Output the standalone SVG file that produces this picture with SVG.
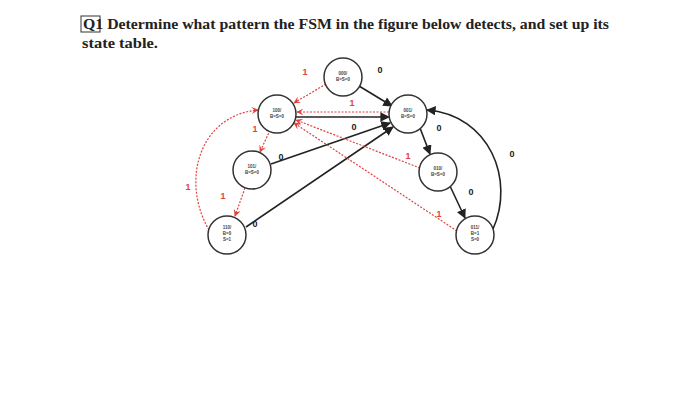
<svg xmlns="http://www.w3.org/2000/svg" width="700" height="411" viewBox="0 0 700 411">
<style>
.n{fill:#fff;stroke:#333;stroke-width:1.5}
.t{font-family:"Liberation Sans",sans-serif;font-size:4.5px;font-weight:bold;fill:#444;text-anchor:middle}
.b{fill:none;stroke:#222;stroke-width:1.6;marker-end:url(#ab)}
.r{fill:none;stroke:#e34040;stroke-width:1.2;stroke-dasharray:2,1.5;marker-end:url(#ar)}
.lb{font-family:"Liberation Sans",sans-serif;font-size:9px;font-weight:bold;fill:#222;text-anchor:middle}
.lr{font-family:"Liberation Sans",sans-serif;font-size:9px;font-weight:bold;fill:#e34040;text-anchor:middle}
.h{font-family:"Liberation Serif",serif;font-size:15px;font-weight:bold;fill:#222}
</style>
<defs>
<marker id="ab" viewBox="0 0 10 10" refX="9" refY="5" markerWidth="6" markerHeight="6" orient="auto"><path d="M0,0L10,5L0,10z" fill="#222"/></marker>
<marker id="ar" viewBox="0 0 10 10" refX="9" refY="5" markerWidth="6" markerHeight="6" orient="auto"><path d="M0,0L10,5L0,10L4,5z" fill="#e34040"/></marker>
</defs>
<rect width="700" height="411" fill="#fff"/>
<rect x="81" y="16" width="19" height="16" fill="none" stroke="#333" stroke-width="1"/>
<text class="h" x="83" y="29" textLength="526" lengthAdjust="spacingAndGlyphs">Q1 Determine what pattern the FSM in the figure below detects, and set up its</text>
<text class="h" x="82" y="48" textLength="76" lengthAdjust="spacingAndGlyphs">state table.</text>
<g id="connectors">
<path class="b" d="M359,86L392,106"/><text class="lb" x="380" y="73">0</text>
<path class="r" d="M326,84L294,103"/><text class="lr" x="305" y="75">1</text>
<path class="r" d="M389,112L297,112"/><text class="lr" x="352" y="106">1</text>
<path class="b" d="M296,117L389,117"/><text class="lb" x="354" y="130">0</text>
<path class="b" d="M271,164L390,123"/><text class="lb" x="281" y="160">0</text>
<path class="b" d="M246,227L393,127"/><text class="lb" x="255" y="227">0</text>
<path class="b" d="M420,128L430,154"/><text class="lb" x="439" y="131">0</text>
<path class="b" d="M450,186L465,218"/><text class="lb" x="471" y="195">0</text>
<path class="b" d="M493,229C515,180 490,115 427,110"/><text class="lb" x="512" y="157">0</text>
<path class="r" d="M420,168L296,120"/><text class="lr" x="408" y="159">1</text>
<path class="r" d="M457,231L294,123"/><text class="lr" x="439" y="217">1</text>
<path class="r" d="M270,130L260,152"/><text class="lr" x="255" y="132">1</text>
<path class="r" d="M245,188L235,216"/><text class="lr" x="223" y="199">1</text>
<path class="r" d="M209,230C180,180 200,115 258,110"/><text class="lr" x="188" y="190">1</text>
</g>
<g id="s000"><circle class="n" cx="343" cy="77" r="19"/><text class="t" x="343" y="75">000/</text><text class="t" x="343" y="81">B=S=0</text></g>
<g id="s100"><circle class="n" cx="277" cy="114" r="19"/><text class="t" x="277" y="112">100/</text><text class="t" x="277" y="118">B=S=0</text></g>
<g id="s001"><circle class="n" cx="408" cy="114" r="19"/><text class="t" x="408" y="112">001/</text><text class="t" x="408" y="118">B=S=0</text></g>
<g id="s101"><circle class="n" cx="252" cy="170" r="19"/><text class="t" x="252" y="168">101/</text><text class="t" x="252" y="174">B=S=0</text></g>
<g id="s010"><circle class="n" cx="438" cy="172" r="19"/><text class="t" x="438" y="170">010/</text><text class="t" x="438" y="176">B=S=0</text></g>
<g id="s110"><circle class="n" cx="227" cy="235" r="19"/><text class="t" x="227" y="229">110/</text><text class="t" x="227" y="235">B=0</text><text class="t" x="227" y="241">S=1</text></g>
<g id="s011"><circle class="n" cx="475" cy="235" r="19"/><text class="t" x="475" y="229">011/</text><text class="t" x="475" y="235">B=1</text><text class="t" x="475" y="241">S=0</text></g>
</svg>
